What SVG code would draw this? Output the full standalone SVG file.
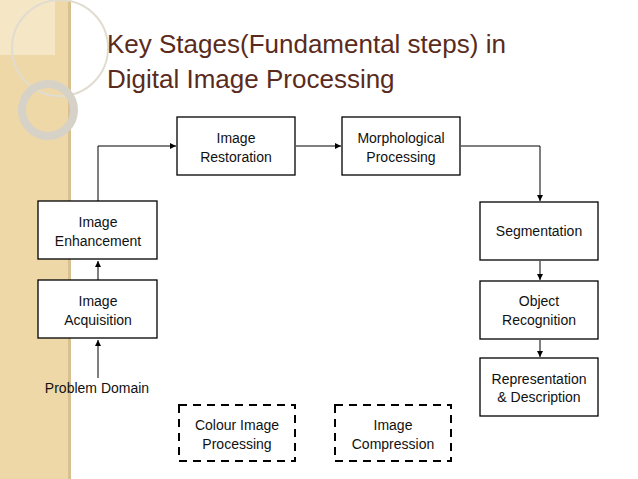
<svg xmlns="http://www.w3.org/2000/svg" width="638" height="479" viewBox="0 0 638 479">
<style>
.b{fill:#fff;stroke:#000;stroke-width:1.3}
.d{fill:#fff;stroke:#000;stroke-width:2;stroke-dasharray:8,6}
.t{font-family:"Liberation Sans",Arial,sans-serif;font-size:14px;text-anchor:middle;fill:#111}
.c{fill:none;stroke:#000;stroke-width:1}
</style>
<defs><marker id="a" markerWidth="7" markerHeight="7" refX="6" refY="3" orient="auto"><path d="M0,0 L6,3 L0,6z" fill="#000"/></marker></defs>
<rect width="638" height="479" fill="#fff"/>
<rect width="70" height="479" fill="#efd8a8"/>
<rect x="68" width="3" height="479" fill="#d8c090"/>
<rect width="55" height="55" fill="#f5e6c6"/>
<circle cx="60" cy="48" r="48" fill="none" stroke="#e0dccf" stroke-width="2"/>
<circle cx="48" cy="110" r="26" fill="none" stroke="#d6d2c8" stroke-width="8"/>
<text x="107" y="53" font-family="Liberation Sans,Arial,sans-serif" font-size="26" fill="#5a2b1c">Key Stages(Fundamental steps) in</text>
<text x="107" y="88" font-family="Liberation Sans,Arial,sans-serif" font-size="26" fill="#5a2b1c">Digital Image Processing</text>
<g id="connectors">
<path class="c" d="M98,378 V340" marker-end="url(#a)"/>
<path class="c" d="M98,280 V261" marker-end="url(#a)"/>
<path class="c" d="M98,201 V146 H176" marker-end="url(#a)"/>
<path class="c" d="M296,146 H341" marker-end="url(#a)"/>
<path class="c" d="M461,146 H540 V201" marker-end="url(#a)"/>
<path class="c" d="M540,261 V280" marker-end="url(#a)"/>
<path class="c" d="M540,340 V357" marker-end="url(#a)"/>
</g>
<g id="restoration"><rect class="b" x="177" y="117" width="118" height="58"/><text class="t" x="236" y="143">Image</text><text class="t" x="236" y="162">Restoration</text></g>
<g id="morph"><rect class="b" x="342" y="117" width="118" height="58"/><text class="t" x="401" y="143">Morphological</text><text class="t" x="401" y="162">Processing</text></g>
<g id="segmentation"><rect class="b" x="480" y="202" width="118" height="58"/><text class="t" x="539" y="236">Segmentation</text></g>
<g id="object"><rect class="b" x="480" y="281" width="118" height="58"/><text class="t" x="539" y="306">Object</text><text class="t" x="539" y="325">Recognition</text></g>
<g id="representation"><rect class="b" x="480" y="358" width="118" height="58"/><text class="t" x="539" y="384">Representation</text><text class="t" x="539" y="402">&amp; Description</text></g>
<g id="enhancement"><rect class="b" x="38" y="201" width="119" height="58"/><text class="t" x="98" y="227">Image</text><text class="t" x="98" y="246">Enhancement</text></g>
<g id="acquisition"><rect class="b" x="38" y="280" width="119" height="58"/><text class="t" x="98" y="306">Image</text><text class="t" x="98" y="325">Acquisition</text></g>
<g id="problem"><text class="t" x="97" y="393">Problem Domain</text></g>
<g id="colour"><rect class="d" x="179" y="405" width="116" height="56"/><text class="t" x="237" y="430">Colour Image</text><text class="t" x="237" y="449">Processing</text></g>
<g id="compression"><rect class="d" x="335" y="405" width="116" height="56"/><text class="t" x="393" y="430">Image</text><text class="t" x="393" y="449">Compression</text></g>
</svg>
